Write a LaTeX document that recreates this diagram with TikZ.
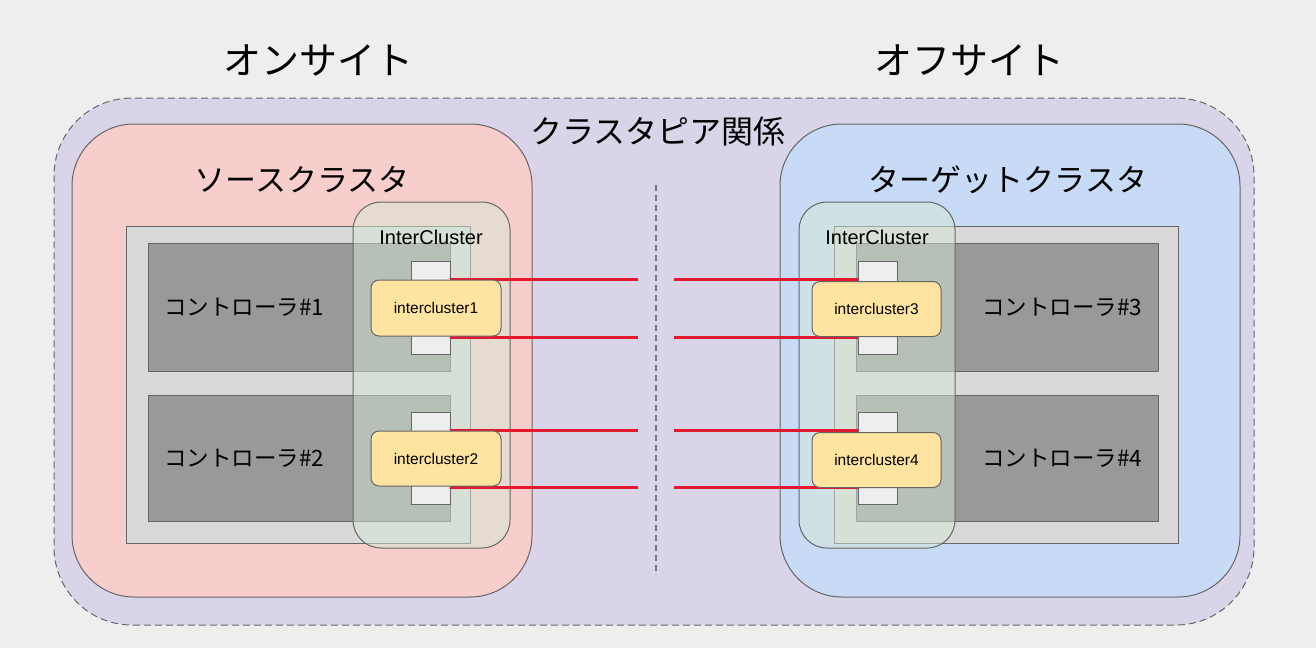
\documentclass[tikz,border=0pt]{standalone}
\usepackage{fontspec}
\setmainfont{Liberation Sans}
\newfontfamily\jp{Noto Sans CJK JP}
\definecolor{bgc}{HTML}{EEEEEE}
\definecolor{peerc}{HTML}{D9D4E8}
\definecolor{pinkc}{HTML}{F8CECC}
\definecolor{bluec}{HTML}{C7DBF6}
\definecolor{lgc}{HTML}{D9D9D9}
\definecolor{dgc}{HTML}{999999}
\definecolor{edgec}{HTML}{666666}
\definecolor{greenc}{HTML}{D5E8D4}
\definecolor{yellowc}{HTML}{FFE3A0}
\definecolor{redc}{HTML}{E3172E}
\begin{document}
\begin{tikzpicture}[x=1pt,y=-1pt,
  boxbase/.style={draw=edgec,line width=1pt,inner sep=0pt,outer sep=0pt},
  peerbox/.style={boxbase,fill=peerc,dash pattern=on 7pt off 4pt,rounded corners=78pt},
  sitebox/.style={boxbase,rounded corners=62pt},
  ctrlouter/.style={boxbase,fill=lgc},
  ctrlinner/.style={boxbase,fill=dgc},
  icbox/.style={boxbase,fill=greenc,fill opacity=0.5,rounded corners=28pt},
  portbox/.style={boxbase,fill=bgc},
  lifbox/.style={boxbase,fill=yellowc,rounded corners=8pt},
  link/.style={draw=redc,line width=3pt},
  divider/.style={draw=edgec!90,line width=1.3pt,dash pattern=on 6pt off 4pt},
  bigtitle/.style={font=\jp\fontsize{38}{42}\selectfont},
  midtitle/.style={font=\jp\fontsize{31}{34}\selectfont},
  ctrltext/.style={font=\jp\fontsize{22.5}{24}\selectfont},
  ictext/.style={font=\fontsize{20}{22}\selectfont},
  liftext/.style={font=\fontsize{15.5}{18}\selectfont}
]
\useasboundingbox[fill=bgc] (0,0) rectangle (1316,648);

% titles
\node[bigtitle] (onsite) at (318,60) {オンサイト};
\node[bigtitle] (offsite) at (969,60) {オフサイト};

% peer relation
\node[peerbox,minimum width=1200pt,minimum height=527pt] (peer) at (654,361.5) {};
\node[font=\jp\fontsize{32}{34}\selectfont] (peerlabel) at (658,131) {クラスタピア関係};

% site clusters
\node[sitebox,fill=pinkc,minimum width=460pt,minimum height=473pt] (src) at (302,360.5) {};
\node[sitebox,fill=bluec,minimum width=460pt,minimum height=473pt] (dst) at (1010,360.5) {};
\node[midtitle] (srclabel) at (302,180) {ソースクラスタ};
\node[midtitle] (dstlabel) at (1008,180) {ターゲットクラスタ};

% divider
\coordinate (dtop) at (656,185);
\coordinate (dbot) at (656,575);
\draw[divider] (dtop) -- (dbot);

% controllers left
\node[ctrlouter,minimum width=344pt,minimum height=317pt] (lchassis) at (298,384.5) {};
\node[ctrlinner,minimum width=302pt,minimum height=128pt] (c1) at (299,307) {};
\node[ctrlinner,minimum width=302pt,minimum height=126pt] (c2) at (299,458) {};
\node[ctrltext] (c1t) at (244,307) {コントローラ\#1};
\node[ctrltext] (c2t) at (244,458) {コントローラ\#2};

% controllers right
\node[ctrlouter,minimum width=344pt,minimum height=317pt] (rchassis) at (1006,384.5) {};
\node[ctrlinner,minimum width=302pt,minimum height=128pt] (c3) at (1007,307) {};
\node[ctrlinner,minimum width=302pt,minimum height=126pt] (c4) at (1007,458) {};
\node[ctrltext] (c3t) at (1062,307) {コントローラ\#3};
\node[ctrltext] (c4t) at (1062,458) {コントローラ\#4};

% InterCluster IPspaces
\node[icbox,minimum width=157pt,minimum height=346pt] (icl) at (431.5,375) {};
\node[icbox,minimum width=156pt,minimum height=346pt] (icr) at (877,375) {};
\node[ictext] (iclt) at (431,237) {InterCluster};
\node[ictext] (icrt) at (877,237) {InterCluster};

% ports
\node[portbox,minimum width=39pt,minimum height=93pt] (p1) at (430.5,307.5) {};
\node[portbox,minimum width=39pt,minimum height=92pt] (p2) at (430.5,458) {};
\node[portbox,minimum width=39pt,minimum height=93pt] (p3) at (877.5,307.5) {};
\node[portbox,minimum width=39pt,minimum height=92pt] (p4) at (877.5,458) {};

% links
\coordinate (la1) at (638,279);
\coordinate (la2) at (638,337);
\coordinate (la3) at (638,430);
\coordinate (la4) at (638,487);
\coordinate (ra1) at (674,279);
\coordinate (ra2) at (674,337);
\coordinate (ra3) at (674,430);
\coordinate (ra4) at (674,487);
\draw[link] (p1.east |- la1) -- (la1);
\draw[link] (p1.east |- la2) -- (la2);
\draw[link] (p2.east |- la3) -- (la3);
\draw[link] (p2.east |- la4) -- (la4);
\draw[link] (ra1) -- (p3.west |- ra1);
\draw[link] (ra2) -- (p3.west |- ra2);
\draw[link] (ra3) -- (p4.west |- ra3);
\draw[link] (ra4) -- (p4.west |- ra4);

% LIFs
\node[lifbox,liftext,minimum width=130pt,minimum height=56pt] (lif1) at (436,308) {intercluster1};
\node[lifbox,liftext,minimum width=130pt,minimum height=55pt] (lif2) at (436,458.5) {intercluster2};
\node[lifbox,liftext,minimum width=129pt,minimum height=55pt] (lif3) at (876.5,309) {intercluster3};
\node[lifbox,liftext,minimum width=129pt,minimum height=55pt] (lif4) at (876.5,460) {intercluster4};
\end{tikzpicture}
\end{document}
